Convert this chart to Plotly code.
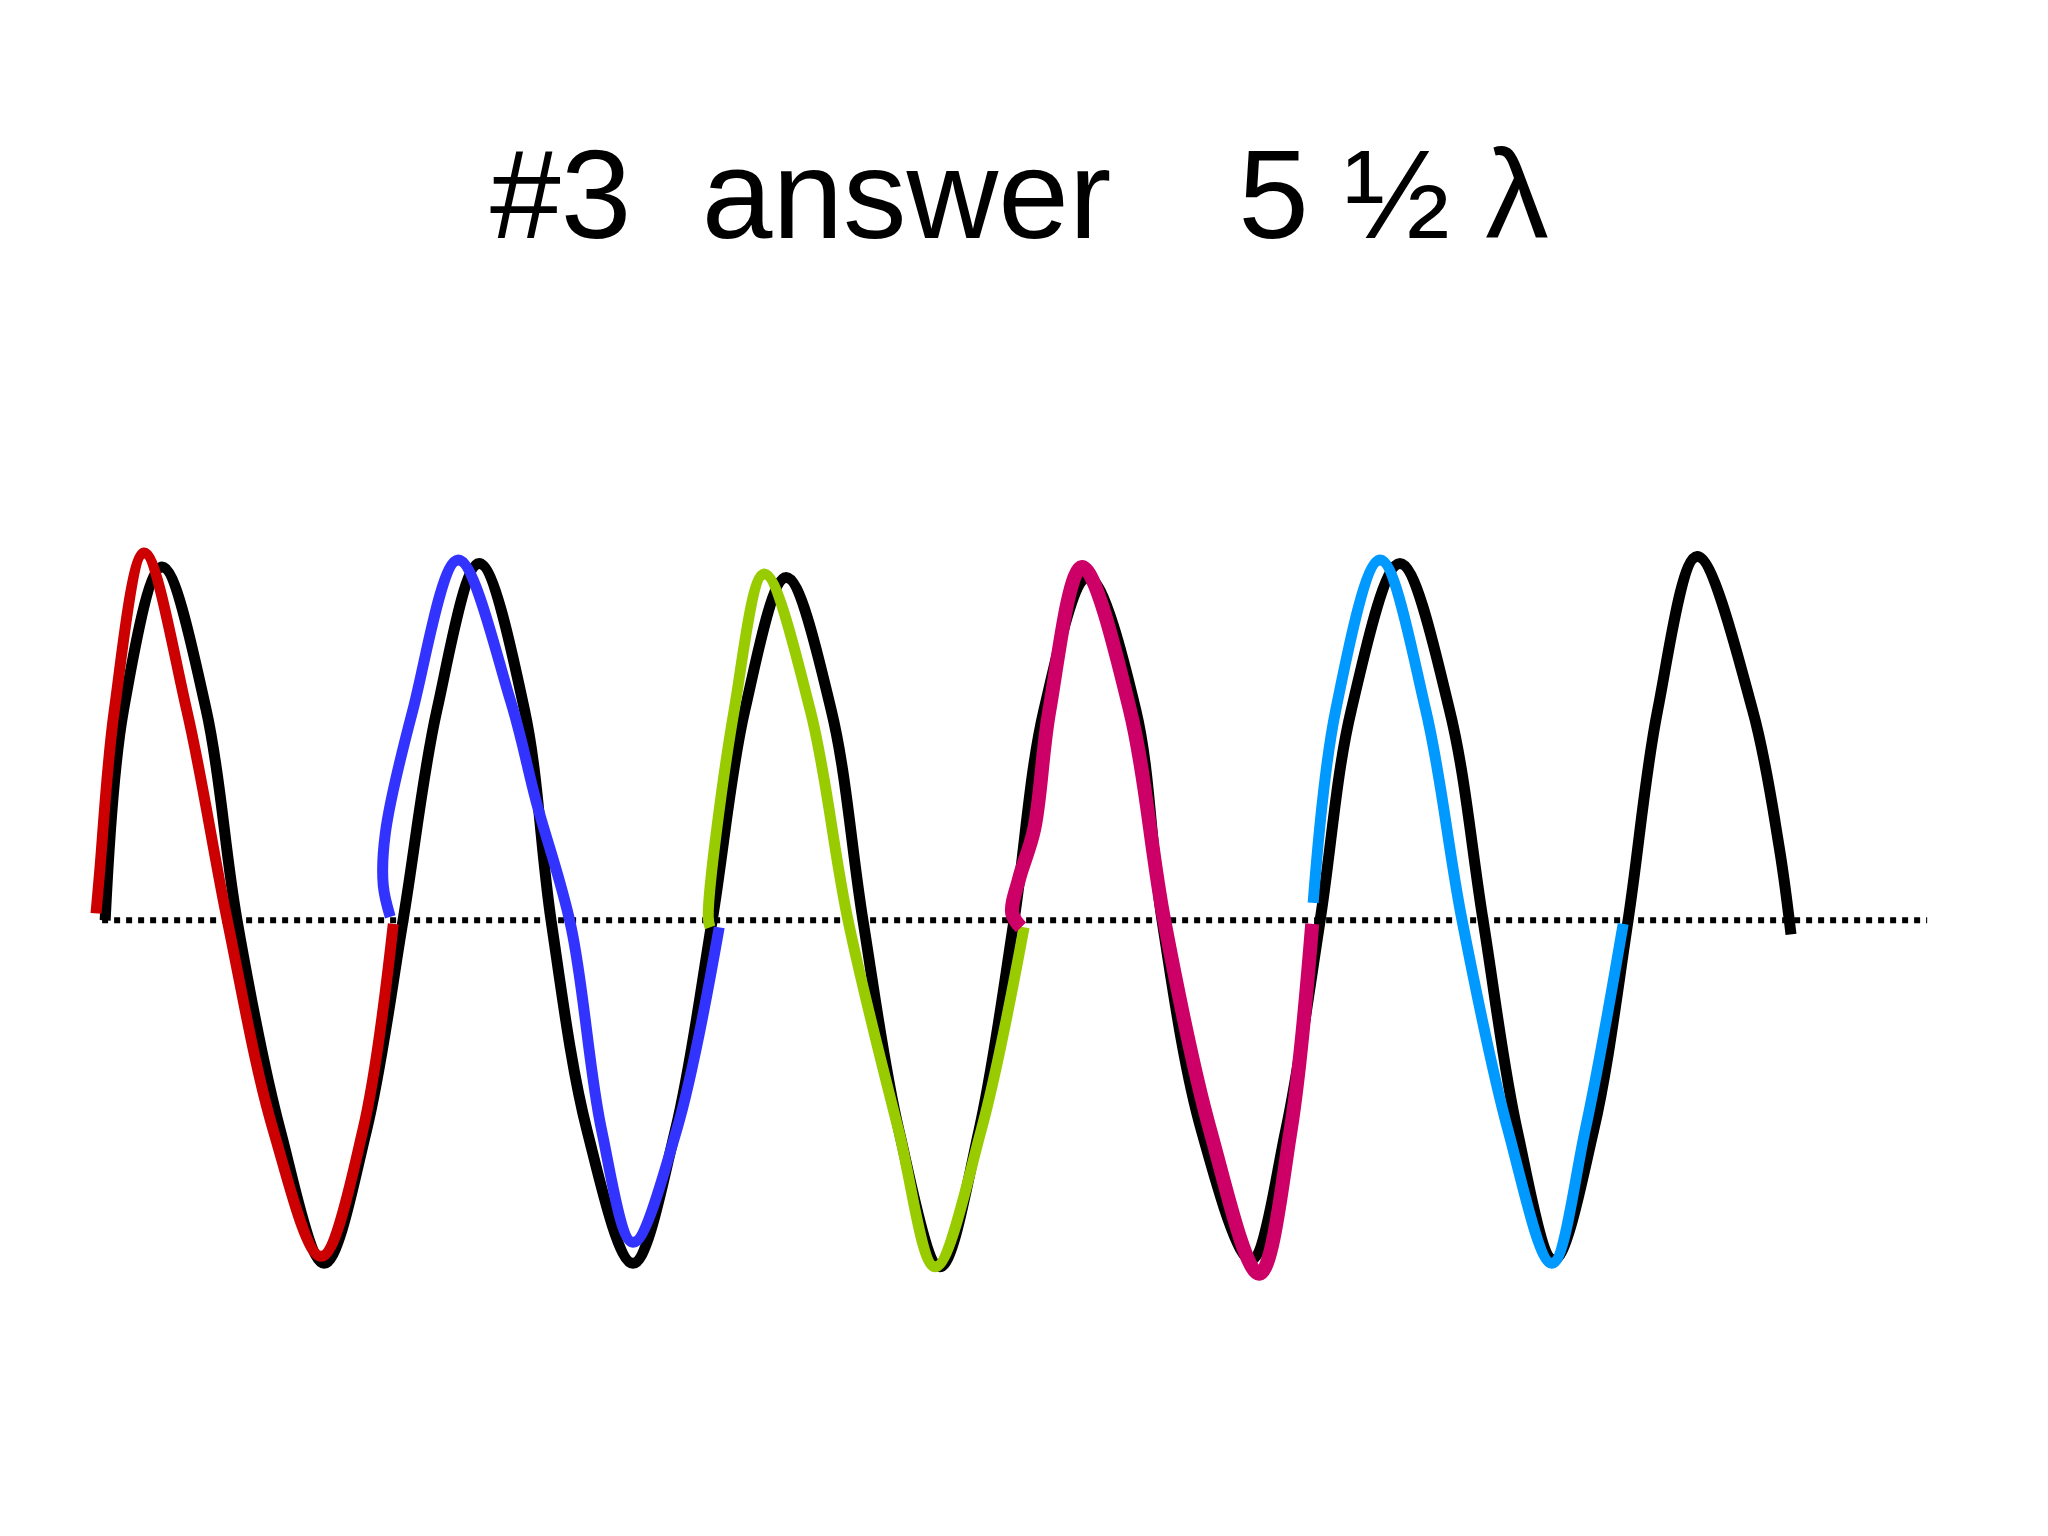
import plotly.graph_objects as go

# x in wavelengths, y in amplitude units
black_x = [0.000, 0.060, 0.187, 0.332, 0.433, 0.575, 0.719, 0.858,
           0.978, 1.089, 1.228, 1.377, 1.464, 1.582, 1.733, 1.872,
           1.993, 2.100, 2.236, 2.384, 2.488, 2.606, 2.741, 2.869,
           2.984, 3.082, 3.227, 3.384, 3.470, 3.599, 3.762, 3.876,
           3.989, 4.091, 4.251, 4.414, 4.524, 4.636, 4.757, 4.887,
           5.000, 5.097, 5.227, 5.409, 5.496, 5.535]
black_y = [0.00, 0.60, 1.01, 0.60, 0.00, -0.60, -0.98, -0.60,
           0.00, 0.60, 1.02, 0.60, 0.00, -0.60, -0.98, -0.60,
           0.00, 0.60, 0.98, 0.60, 0.00, -0.60, -0.99, -0.60,
           0.00, 0.60, 0.98, 0.60, 0.00, -0.60, -0.97, -0.60,
           0.00, 0.60, 1.02, 0.60, 0.00, -0.60, -0.97, -0.60,
           0.00, 0.60, 1.04, 0.60, 0.21, -0.04]

red_x = [-0.030, -0.018, 0.030, 0.128, 0.268, 0.401, 0.552, 0.709, 0.846, 0.946]
red_y = [0.02, 0.14, 0.60, 1.05, 0.60, 0.00, -0.60, -0.96, -0.60, -0.01]

blue_x = [0.936, 0.913, 0.920, 1.010, 1.159, 1.330, 1.415, 1.530, 1.630, 1.733, 1.876, 2.016]
blue_y = [0.01, 0.10, 0.25, 0.60, 1.03, 0.63, 0.34, -0.02, -0.60, -0.92, -0.60, -0.02]

green_x = [1.986, 1.980, 2.065, 2.164, 2.315, 2.439, 2.605, 2.725, 2.876, 3.017]
green_y = [-0.02, 0.01, 0.60, 0.99, 0.60, 0.00, -0.60, -0.99, -0.60, -0.02]

magenta_x = [3.007, 2.978, 3.001, 3.050, 3.100, 3.207, 3.365, 3.477, 3.628, 3.789, 3.892, 3.963]
magenta_y = [-0.02, 0.02, 0.12, 0.26, 0.60, 1.01, 0.60, 0.00, -0.60, -1.01, -0.60, -0.01]

cyan_x = [3.966, 4.040, 4.186, 4.336, 4.455, 4.606, 4.750, 4.859, 4.984]
cyan_y = [0.05, 0.60, 1.03, 0.60, 0.00, -0.60, -0.98, -0.60, -0.01]

axis_x = [-0.010, 5.982]
axis_y = [0, 0]

title_text = ("#3\u00a0\u00a0answer\u00a0\u00a0\u00a0\u2006"
              "5\u00a0\u00bd\u00a0\u03bb")

fig = go.Figure()

fig.add_trace(go.Scatter(x=black_x, y=black_y, mode="lines",
                         line=dict(color="#000000", width=11, shape="spline")))
fig.add_trace(go.Scatter(x=axis_x, y=axis_y, mode="lines",
                         line=dict(color="#000000", width=6, dash="dot")))

segments = [
    (red_x, red_y, "#CC0000", 11),
    (blue_x, blue_y, "#3333FF", 11),
    (green_x, green_y, "#99CC00", 11),
    (magenta_x, magenta_y, "#CC0066", 14),
    (cyan_x, cyan_y, "#0099FF", 11),
]
for xs, ys, color, w in segments:
    fig.add_trace(go.Scatter(x=xs, y=ys, mode="lines",
                             line=dict(color=color, width=w, shape="spline")))

fig.add_annotation(text=title_text, xref="paper", yref="paper", x=0.494, y=0.8786,
                   xanchor="center", yanchor="middle", showarrow=False,
                   font=dict(family="Liberation Sans, Arial", size=127, color="#000000"))

# ranges shifted a little to make up for the page margin
fig.update_layout(
    width=2048, height=1536,
    margin=dict(l=0, r=0, t=0, b=0),
    paper_bgcolor="white", plot_bgcolor="white",
    showlegend=False,
    xaxis=dict(range=[-0.319, 6.405], visible=False),
    yaxis=dict(range=[-1.782, 2.607], visible=False),
)

fig.write_html("out.html")
